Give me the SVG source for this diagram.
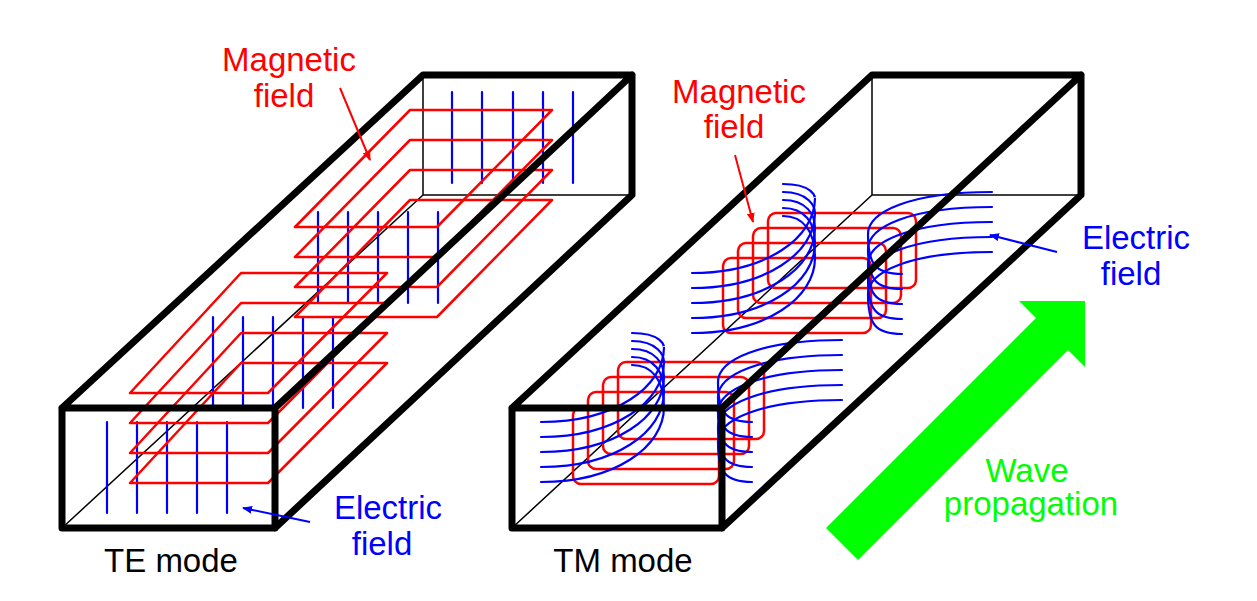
<svg xmlns="http://www.w3.org/2000/svg" width="1257" height="601" viewBox="0 0 1257 601">
<style>
.thick{fill:none;stroke:#000;stroke-width:7;stroke-linejoin:round;stroke-linecap:round}
.thin{fill:none;stroke:#000;stroke-width:1.5}
.r{fill:none;stroke:#f00;stroke-width:2.5;stroke-linejoin:round}
.b{fill:none;stroke:#00f;stroke-width:2.2;stroke-linecap:round}
.t{font-family:"Liberation Sans",Arial,sans-serif;font-size:33px;text-anchor:middle}
</style>
<defs>
<marker id="ar" markerWidth="10" markerHeight="8" refX="9" refY="4" orient="auto" markerUnits="userSpaceOnUse" viewBox="0 0 10 8"><path d="M0,0 L10,4 L0,8 Z" fill="#f00"/></marker>
<marker id="ab" markerWidth="10" markerHeight="8" refX="9" refY="4" orient="auto" markerUnits="userSpaceOnUse" viewBox="0 0 10 8"><path d="M0,0 L10,4 L0,8 Z" fill="#00f"/></marker>
</defs>
<rect width="1257" height="601" fill="#fff"/>

<g id="te-box">
<path class="thin" d="M423,75 V195 H632 M62,528 L423,195"/>
<g id="te-efield" class="b">
<path d="M107,422V513M137,422V513M167,422V513M197,422V513M227,422V513"/>
<path d="M213,317V408M243,317V408M273,317V408M303,317V408M333,317V408"/>
<path d="M318,212V303M348,212V303M378,212V303M408,212V303M438,212V303"/>
<path d="M452,92V183M482,92V183M513,92V183M543,92V183M573,92V183"/>
</g>
<g id="te-hfield" class="r">
<path d="M130,393H268L387,273H241Z"/>
<path d="M130,423H268L387,303H241Z"/>
<path d="M130,453H268L387,333H241Z"/>
<path d="M130,483H268L387,363H241Z"/>
<path d="M295,227H437L552,110H410Z"/>
<path d="M295,257H437L552,140H410Z"/>
<path d="M295,287H437L552,170H410Z"/>
<path d="M295,317H437L552,200H410Z"/>
</g>
<path class="thick" d="M62,408H275V528H62Z M62,408L423,75H632V195L275,528 M275,408L632,75"/>
</g>

<g id="tm-box">
<path class="thin" d="M872,75V195H1081 M512,528L872,195"/>
<g id="tm-fields">
<g class="r">
<rect x="573" y="407" width="146" height="77" rx="8"/>
<rect x="588" y="392" width="146" height="77" rx="8"/>
<rect x="603" y="377" width="146" height="77" rx="8"/>
<rect x="618" y="362" width="146" height="77" rx="8"/>
<rect x="723" y="258" width="148" height="75" rx="8"/>
<rect x="738" y="243" width="148" height="75" rx="8"/>
<rect x="753" y="228" width="148" height="75" rx="8"/>
<rect x="768" y="213" width="148" height="75" rx="8"/>
</g>
<g class="b">
<path d="M541,422C615,422 664,387 664,347C664,348 664,333 632,333"/>
<path d="M541,437C615,437 664,402 664,362C664,356 658,341 632,341"/>
<path d="M541,452C615,452 664,417 664,377C664,364 656,349 632,349"/>
<path d="M541,467C615,467 664,432 664,392C664,372 654,357 632,357"/>
<path d="M541,482C615,482 664,447 664,407C664,380 652,365 632,365"/>
<path d="M752,422C725,422 718,412 718,382C718,360 760,340 842,340"/>
<path d="M752,437C725,437 718,427 718,397C718,375 760,355 842,355"/>
<path d="M752,452C725,452 718,442 718,412C718,390 760,370 842,370"/>
<path d="M752,467C725,467 718,457 718,427C718,405 760,385 842,385"/>
<path d="M752,482C725,482 718,472 718,442C718,420 760,400 842,400"/>
<g transform="translate(151,-149)">
<path d="M541,422C615,422 664,387 664,347C664,348 664,333 632,333"/>
<path d="M541,437C615,437 664,402 664,362C664,356 658,341 632,341"/>
<path d="M541,452C615,452 664,417 664,377C664,364 656,349 632,349"/>
<path d="M541,467C615,467 664,432 664,392C664,372 654,357 632,357"/>
<path d="M541,482C615,482 664,447 664,407C664,380 652,365 632,365"/>
</g>
<g transform="translate(150,-148)">
<path d="M752,422C725,422 718,412 718,382C718,360 760,340 842,340"/>
<path d="M752,437C725,437 718,427 718,397C718,375 760,355 842,355"/>
<path d="M752,452C725,452 718,442 718,412C718,390 760,370 842,370"/>
<path d="M752,467C725,467 718,457 718,427C718,405 760,385 842,385"/>
<path d="M752,482C725,482 718,472 718,442C718,420 760,400 842,400"/>
</g>
</g>
</g>
<path class="thick" d="M512,408H722V528H512Z M512,408L872,75H1081V195L722,528 M722,408L1081,75"/>
</g>

<g id="connectors">
<path d="M340,88L370,160" stroke="#f00" stroke-width="2" fill="none" marker-end="url(#ar)"/>
<path d="M310,522L243,508" stroke="#00f" stroke-width="2" fill="none" marker-end="url(#ab)"/>
<path d="M735,155L753,222" stroke="#f00" stroke-width="2" fill="none" marker-end="url(#ar)"/>
<path d="M1057,252L990,235" stroke="#00f" stroke-width="2" fill="none" marker-end="url(#ab)"/>
</g>

<g id="wave-arrow">
<polygon points="826,528 1036,318 1019,301 1085,301 1085,367 1068,350 858,560" fill="#00ff00"/>
</g>

<g id="labels">
<text class="t" x="289" y="71" fill="#f00">Magnetic</text>
<text class="t" x="284" y="107" fill="#f00">field</text>
<text class="t" x="388" y="519" fill="#00f">Electric</text>
<text class="t" x="382" y="555" fill="#00f">field</text>
<text class="t" x="171" y="572" fill="#000">TE mode</text>
<text class="t" x="739" y="103" fill="#f00">Magnetic</text>
<text class="t" x="734" y="138" fill="#f00">field</text>
<text class="t" x="1136" y="249" fill="#00f">Electric</text>
<text class="t" x="1131" y="285" fill="#00f">field</text>
<text class="t" x="623" y="572" fill="#000">TM mode</text>
<text class="t" x="1027" y="482" fill="#00ff00">Wave</text>
<text class="t" x="1031" y="515" fill="#00ff00">propagation</text>
</g>
</svg>
